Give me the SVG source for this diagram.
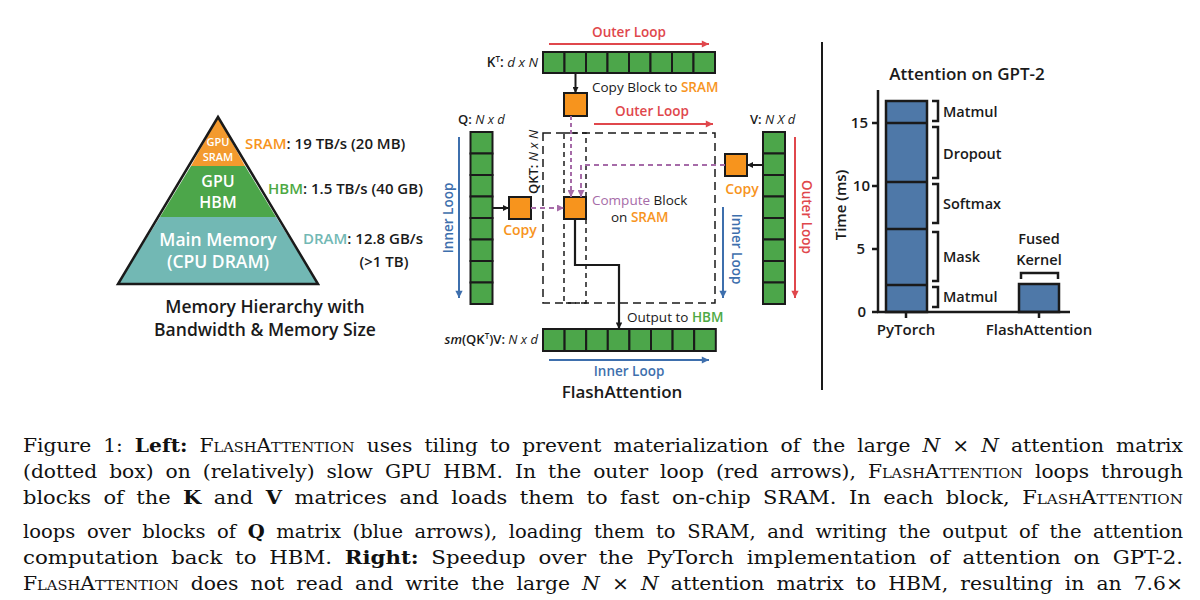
<svg xmlns="http://www.w3.org/2000/svg" width="1200" height="600" viewBox="0 0 1200 600">
<defs>
<style>
.t{font-family:"Open Sans","Noto Sans",sans-serif;font-weight:600;fill:#1a1a1a}
.r{font-weight:400}
.i{font-style:italic;font-weight:400}
.or{fill:#F7941D}.gr{fill:#4DA843}.te{fill:#72B8B4}.rd{fill:#E0474C}.bl{fill:#3E6FAD}.pu{fill:#A66BA8}.wh{fill:#ffffff}
.cell{fill:#4CA64A;stroke:#1a1a1a;stroke-width:2}
.ob{fill:#F7941D;stroke:#1a1a1a;stroke-width:2}
.bar{fill:#4E78A8;stroke:#1a1a1a;stroke-width:2.5}
.cap{font-family:"DejaVu Serif","Liberation Serif",serif;font-size:18px;word-spacing:5px;fill:#111}
.b{font-weight:bold}
.sc{font-variant:small-caps}
</style>
<marker id="mR" viewBox="0 0 10 10" refX="10" refY="5" markerWidth="4.5" markerHeight="3.6" orient="auto" markerUnits="strokeWidth"><path d="M0,0 L10,5 L0,10 z" fill="#E0474C"/></marker>
<marker id="mB" viewBox="0 0 10 10" refX="10" refY="5" markerWidth="4.5" markerHeight="3.6" orient="auto" markerUnits="strokeWidth"><path d="M0,0 L10,5 L0,10 z" fill="#3E6FAD"/></marker>
<marker id="mK" viewBox="0 0 10 10" refX="10" refY="5" markerWidth="3.5" markerHeight="3" orient="auto" markerUnits="strokeWidth"><path d="M0,0 L10,5 L0,10 z" fill="#1a1a1a"/></marker>
<marker id="mP" viewBox="0 0 10 10" refX="10" refY="5" markerWidth="4" markerHeight="3.5" orient="auto" markerUnits="strokeWidth"><path d="M0,0 L10,5 L0,10 z" fill="#A66BA8"/></marker>
</defs>
<rect width="1200" height="600" fill="#ffffff"/>

<!-- Memory hierarchy pyramid -->
<g id="pyramid">
<polygon points="218,117 245,166 191,166" fill="#F39A2E"/>
<polygon points="191,166 245,166 276,217 160,217" fill="#4CA64A"/>
<polygon points="160,217 276,217 318,284 118,284" fill="#72B8B4"/>
<polygon points="218,117 318,284 118,284" fill="none" stroke="#1a1a1a" stroke-width="2.5" stroke-linejoin="miter"/>
<text class="t wh" x="218" y="146" font-size="11" text-anchor="middle">GPU</text>
<text class="t wh" x="218" y="161" font-size="11" text-anchor="middle">SRAM</text>
<text class="t wh" x="218" y="187" font-size="16" text-anchor="middle">GPU</text>
<text class="t wh" x="218" y="208" font-size="16" text-anchor="middle">HBM</text>
<text class="t wh" x="218" y="246" font-size="17.5" text-anchor="middle">Main Memory</text>
<text class="t wh" x="218" y="268" font-size="17.5" text-anchor="middle">(CPU DRAM)</text>
</g>
<g id="mem-labels">
<text class="t" x="245" y="149" font-size="15"><tspan class="or">SRAM</tspan>: 19 TB/s (20 MB)</text>
<text class="t" x="268" y="194" font-size="15"><tspan class="gr">HBM</tspan>: 1.5 TB/s (40 GB)</text>
<text class="t" x="303" y="244" font-size="15"><tspan class="te">DRAM</tspan>: 12.8 GB/s</text>
<text class="t" x="384" y="267" font-size="15" text-anchor="middle">(&gt;1 TB)</text>
<text class="t" x="265" y="313" font-size="17.5" text-anchor="middle">Memory Hierarchy with</text>
<text class="t" x="265" y="336" font-size="17.5" text-anchor="middle">Bandwidth &amp; Memory Size</text>
</g>

<!-- FlashAttention diagram -->
<g id="K-matrix">
<rect class="cell" x="543" y="52" width="21.5" height="21"/>
<rect class="cell" x="564.5" y="52" width="21.5" height="21"/>
<rect class="cell" x="586" y="52" width="21.5" height="21"/>
<rect class="cell" x="607.5" y="52" width="21.5" height="21"/>
<rect class="cell" x="629" y="52" width="21.5" height="21"/>
<rect class="cell" x="650.5" y="52" width="21.5" height="21"/>
<rect class="cell" x="672" y="52" width="21.5" height="21"/>
<rect class="cell" x="693.5" y="52" width="21.5" height="21"/>
<text class="t" x="538" y="67" font-size="13.5" text-anchor="end">K<tspan font-size="8" dy="-5">T</tspan><tspan dy="5">: </tspan><tspan class="i">d x N</tspan></text>
</g>
<g id="Q-matrix">
<rect class="cell" x="470.5" y="132" width="22" height="21.5"/>
<rect class="cell" x="470.5" y="153.5" width="22" height="21.5"/>
<rect class="cell" x="470.5" y="175" width="22" height="21.5"/>
<rect class="cell" x="470.5" y="196.5" width="22" height="21.5"/>
<rect class="cell" x="470.5" y="218" width="22" height="21.5"/>
<rect class="cell" x="470.5" y="239.5" width="22" height="21.5"/>
<rect class="cell" x="470.5" y="261" width="22" height="21.5"/>
<rect class="cell" x="470.5" y="282.5" width="22" height="21.5"/>
<text class="t" x="458" y="124" font-size="13">Q: <tspan class="i">N x d</tspan></text>
</g>
<g id="V-matrix">
<rect class="cell" x="763" y="132" width="22" height="21.5"/>
<rect class="cell" x="763" y="153.5" width="22" height="21.5"/>
<rect class="cell" x="763" y="175" width="22" height="21.5"/>
<rect class="cell" x="763" y="196.5" width="22" height="21.5"/>
<rect class="cell" x="763" y="218" width="22" height="21.5"/>
<rect class="cell" x="763" y="239.5" width="22" height="21.5"/>
<rect class="cell" x="763" y="261" width="22" height="21.5"/>
<rect class="cell" x="763" y="282.5" width="22" height="21.5"/>
<text class="t" x="750" y="124" font-size="13">V: <tspan class="i">N X d</tspan></text>
</g>
<g id="O-matrix">
<rect class="cell" x="543" y="329" width="21.6" height="22"/>
<rect class="cell" x="564.6" y="329" width="21.6" height="22"/>
<rect class="cell" x="586.2" y="329" width="21.6" height="22"/>
<rect class="cell" x="607.8" y="329" width="21.6" height="22"/>
<rect class="cell" x="629.4" y="329" width="21.6" height="22"/>
<rect class="cell" x="651" y="329" width="21.6" height="22"/>
<rect class="cell" x="672.6" y="329" width="21.6" height="22"/>
<rect class="cell" x="694.2" y="329" width="21.6" height="22"/>
<text class="t" x="538" y="344" font-size="13" text-anchor="end"><tspan font-style="italic">sm</tspan>(QK<tspan font-size="8" dy="-5">T</tspan><tspan dy="5">)V: </tspan><tspan class="i">N x d</tspan></text>
</g>
<g id="QKT-box">
<rect x="543" y="133" width="172" height="170" fill="none" stroke="#1a1a1a" stroke-width="1.5" stroke-dasharray="8,5"/>
<rect x="564" y="133" width="22" height="170" fill="none" stroke="#1a1a1a" stroke-width="1.5" stroke-dasharray="5,4"/>
<text class="t" transform="translate(538,162) rotate(-90)" font-size="13" text-anchor="middle">QKT: <tspan class="i">N x N</tspan></text>
</g>
<g id="K-copy"><rect class="ob" x="564" y="93" width="23" height="23"/></g>
<g id="Q-copy"><rect class="ob" x="509" y="197" width="22" height="22"/><text class="t or" x="520" y="235" font-size="14" text-anchor="middle">Copy</text></g>
<g id="V-copy"><rect class="ob" x="725" y="154" width="22" height="22"/><text class="t or" x="742" y="194" font-size="14" text-anchor="middle">Copy</text></g>
<g id="compute"><rect class="ob" x="564" y="197" width="22" height="22"/>
<text class="t r" x="592" y="205" font-size="13.5"><tspan class="pu">Compute</tspan> Block</text>
<text class="t r" x="611" y="222" font-size="13.5">on <tspan class="or" font-weight="600">SRAM</tspan></text>
</g>
<g id="connectors" fill="none">
<line x1="549" y1="44" x2="709" y2="44" stroke="#E0474C" stroke-width="2" marker-end="url(#mR)"/>
<line x1="594" y1="124" x2="713" y2="124" stroke="#E0474C" stroke-width="2" marker-end="url(#mR)"/>
<line x1="795" y1="137" x2="795" y2="298" stroke="#E0474C" stroke-width="2" marker-end="url(#mR)"/>
<line x1="459" y1="137" x2="459" y2="298" stroke="#3E6FAD" stroke-width="2" marker-end="url(#mB)"/>
<line x1="723" y1="207" x2="723" y2="298" stroke="#3E6FAD" stroke-width="2" marker-end="url(#mB)"/>
<line x1="549" y1="360" x2="709" y2="360" stroke="#3E6FAD" stroke-width="2" marker-end="url(#mB)"/>
<line x1="575.5" y1="73" x2="575.5" y2="93" stroke="#1a1a1a" stroke-width="2" marker-end="url(#mK)"/>
<line x1="492.5" y1="208" x2="509" y2="208" stroke="#1a1a1a" stroke-width="2" marker-end="url(#mK)"/>
<line x1="763" y1="165" x2="747" y2="165" stroke="#1a1a1a" stroke-width="2" marker-end="url(#mK)"/>
<line x1="531" y1="208" x2="564" y2="208" stroke="#A66BA8" stroke-width="2" stroke-dasharray="5,4" marker-end="url(#mP)"/>
<line x1="571" y1="116" x2="571" y2="197" stroke="#A66BA8" stroke-width="2" stroke-dasharray="4,3" marker-end="url(#mP)"/>
<polyline points="725,165 581,165 581,197" stroke="#A66BA8" stroke-width="2" stroke-dasharray="5,4" marker-end="url(#mP)"/>
<polyline points="575,219 575,265 619,265 619,329" stroke="#1a1a1a" stroke-width="2.2" marker-end="url(#mK)"/>
</g>
<g id="loop-labels">
<text class="t rd" x="629" y="37" font-size="13.5" text-anchor="middle">Outer Loop</text>
<text class="t rd" x="652" y="116" font-size="13.5" text-anchor="middle">Outer Loop</text>
<text class="t bl" x="629" y="376" font-size="13.5" text-anchor="middle">Inner Loop</text>
<text class="t bl" transform="translate(453,218) rotate(-90)" font-size="13.5" text-anchor="middle">Inner Loop</text>
<text class="t bl" transform="translate(732,249) rotate(90)" font-size="13.5" text-anchor="middle">Inner Loop</text>
<text class="t rd" transform="translate(802,217) rotate(90)" font-size="13.5" text-anchor="middle">Outer Loop</text>
<text class="t r" x="592" y="92" font-size="13.5">Copy Block to <tspan class="or" font-weight="600">SRAM</tspan></text>
<text class="t r" x="627" y="322" font-size="13.5">Output to <tspan class="gr" font-weight="600">HBM</tspan></text>
<text class="t" x="622" y="398" font-size="17" text-anchor="middle">FlashAttention</text>
</g>

<line x1="822" y1="42" x2="822" y2="390" stroke="#1a1a1a" stroke-width="2"/>

<!-- Chart -->
<g id="chart">
<text class="t" x="967" y="80" font-size="17" text-anchor="middle">Attention on GPT-2</text>
<rect class="bar" x="886" y="101" width="41" height="211"/>
<g stroke="#1a1a1a" stroke-width="2.5">
<line x1="886" y1="123" x2="927" y2="123"/>
<line x1="886" y1="182" x2="927" y2="182"/>
<line x1="886" y1="229" x2="927" y2="229"/>
<line x1="886" y1="285" x2="927" y2="285"/>
</g>
<rect class="bar" x="1019" y="284" width="40" height="28"/>
<g fill="none" stroke="#1a1a1a" stroke-width="2.5">
<line x1="878" y1="90" x2="878" y2="313"/>
<line x1="877" y1="312" x2="1070" y2="312"/>
<path d="M872,123 H878 M872,186 H878 M872,249 H878 M872,312 H878 M906,312 V318 M1039,312 V318"/>
<path d="M932,101 H938 V121 H932 M932,127 H938 V178 H932 M932,184 H938 V223 H932 M932,232 H938 V281 H932 M932,287 H938 V307 H932"/>
<path d="M1021,279 V273 H1058 V279"/>
</g>
<text class="t" x="868" y="128" font-size="15" text-anchor="end">15</text>
<text class="t" x="870" y="191" font-size="15" text-anchor="end">10</text>
<text class="t" x="865" y="254" font-size="15" text-anchor="end">5</text>
<text class="t" x="866" y="317" font-size="15" text-anchor="end">0</text>
<text class="t" transform="translate(846,205) rotate(-90)" font-size="15" text-anchor="middle">Time (ms)</text>
<text class="t" x="943" y="117" font-size="14.5">Matmul</text>
<text class="t" x="943" y="159" font-size="14.5">Dropout</text>
<text class="t" x="943" y="209" font-size="14.5">Softmax</text>
<text class="t" x="943" y="262" font-size="14.5">Mask</text>
<text class="t" x="943" y="302" font-size="14.5">Matmul</text>
<text class="t" x="1039" y="244" font-size="14.5" text-anchor="middle">Fused</text>
<text class="t" x="1039" y="265" font-size="14.5" text-anchor="middle">Kernel</text>
<text class="t" x="906" y="335" font-size="15" text-anchor="middle">PyTorch</text>
<text class="t" x="1039" y="335" font-size="15" text-anchor="middle">FlashAttention</text>
</g>

<!-- Caption -->
<g id="caption">
<text class="cap" x="23" y="452" textLength="1160" lengthAdjust="spacingAndGlyphs">Figure 1: <tspan class="b">Left:</tspan> <tspan class="sc">FlashAttention</tspan> uses tiling to prevent materialization of the large <tspan font-style="italic">N</tspan> × <tspan font-style="italic">N</tspan> attention matrix</text>
<text class="cap" x="23" y="478" textLength="1160" lengthAdjust="spacingAndGlyphs">(dotted box) on (relatively) slow GPU HBM. In the outer loop (red arrows), <tspan class="sc">FlashAttention</tspan> loops through</text>
<text class="cap" x="23" y="504" textLength="1160" lengthAdjust="spacingAndGlyphs">blocks of the <tspan class="b">K</tspan> and <tspan class="b">V</tspan> matrices and loads them to fast on-chip SRAM. In each block, <tspan class="sc">FlashAttention</tspan></text>
<text class="cap" x="23" y="538" textLength="1160" lengthAdjust="spacingAndGlyphs">loops over blocks of <tspan class="b">Q</tspan> matrix (blue arrows), loading them to SRAM, and writing the output of the attention</text>
<text class="cap" x="23" y="564" textLength="1160" lengthAdjust="spacingAndGlyphs">computation back to HBM. <tspan class="b">Right:</tspan> Speedup over the PyTorch implementation of attention on GPT-2.</text>
<text class="cap" x="23" y="590" textLength="1160" lengthAdjust="spacingAndGlyphs"><tspan class="sc">FlashAttention</tspan> does not read and write the large <tspan font-style="italic">N</tspan> × <tspan font-style="italic">N</tspan> attention matrix to HBM, resulting in an 7.6×</text>
</g>
</svg>
